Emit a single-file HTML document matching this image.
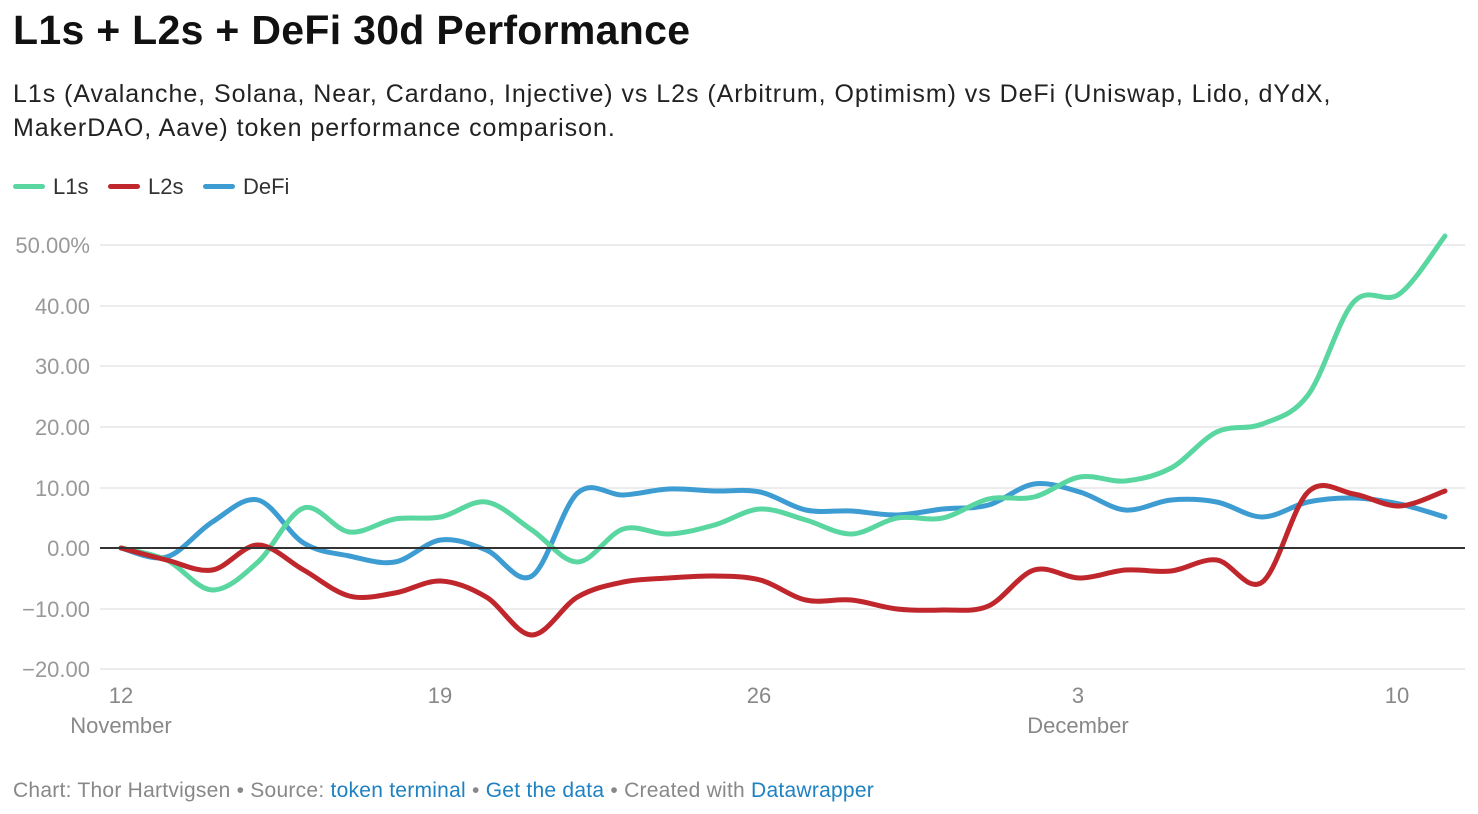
<!DOCTYPE html>
<html><head><meta charset="utf-8"><style>
body{margin:0;background:#fff;width:1478px;height:814px;overflow:hidden;font-family:"Liberation Sans",Arial,sans-serif;}
.t{position:absolute;left:13px;top:7px;font-size:41px;font-weight:bold;color:#111;letter-spacing:0.3px}
.s{position:absolute;left:13px;top:77px;font-size:25px;line-height:34px;color:#222;width:1345px;letter-spacing:0.95px}
.lg{position:absolute;top:174px;font-size:22px;color:#333}
.lg span{display:inline-block;width:32px;height:5px;border-radius:3px;vertical-align:middle;margin-right:8px;position:relative;top:-2px}
.f{position:absolute;left:13px;top:779px;font-size:21px;color:#888;letter-spacing:0.25px}
.f b{font-weight:normal;color:#1d81c2}
</style></head><body>
<div class="t">L1s + L2s + DeFi 30d Performance</div>
<div class="s">L1s (Avalanche, Solana, Near, Cardano, Injective) vs L2s (Arbitrum, Optimism) vs DeFi (Uniswap, Lido, dYdX, MakerDAO, Aave) token performance comparison.</div>
<div class="lg" style="left:13px"><span style="background:#5ad6a0"></span>L1s</div>
<div class="lg" style="left:108px"><span style="background:#c0272d"></span>L2s</div>
<div class="lg" style="left:203px"><span style="background:#3d9cd1"></span>DeFi</div>
<svg width="1478" height="814" style="position:absolute;left:0;top:0" font-family="Liberation Sans,Arial,sans-serif">
<g stroke="#e6e6e6" stroke-width="1.5">
<line x1="100" x2="1465" y1="245" y2="245"/><line x1="100" x2="1465" y1="306" y2="306"/>
<line x1="100" x2="1465" y1="366" y2="366"/><line x1="100" x2="1465" y1="427" y2="427"/>
<line x1="100" x2="1465" y1="488" y2="488"/><line x1="100" x2="1465" y1="609" y2="609"/>
<line x1="100" x2="1465" y1="669" y2="669"/></g>
<g fill="#999" font-size="22" text-anchor="end">
<text x="90" y="253">50.00%</text><text x="90" y="314">40.00</text><text x="90" y="374">30.00</text>
<text x="90" y="435">20.00</text><text x="90" y="496">10.00</text><text x="90" y="556">0.00</text>
<text x="90" y="617">−10.00</text><text x="90" y="677">−20.00</text></g>
<g fill="#888" font-size="22" text-anchor="middle">
<text x="121" y="703">12</text><text x="121" y="733">November</text>
<text x="440" y="703">19</text><text x="759" y="703">26</text>
<text x="1078" y="703">3</text><text x="1078" y="733">December</text>
<text x="1397" y="703">10</text></g>
<g id="lines" fill="none" stroke-width="5" stroke-linecap="round" stroke-linejoin="round"></g>
<line x1="100" x2="1465" y1="548" y2="548" stroke="#333" stroke-width="2"/>
</svg>
<div class="f">Chart: Thor Hartvigsen • Source: <b>token terminal</b> • <b>Get the data</b> • Created with <b>Datawrapper</b></div>
<script>
var G=[548,560,590,562,508,532,519,517,502,530,562,529,534,525,509,520,534,518,518,499,497,477,481,468,432,424,395,302,294,236];
var R=[548,560,570,545,570,596,593,581,597,635,597,582,578,576,580,600,600,609,610,606,570,578,570,571,560,582,492,494,506,491];
var B=[548,557,522,500,543,556,562,540,550,576,493,495,489,491,492,510,511,515,509,505,484,492,510,500,502,517,502,498,504,517];
function path(Y){var p=Y.map(function(y,i){return [121+i*(1324/29),y]});var d="M"+p[0][0]+","+p[0][1];
for(var i=0;i<p.length-1;i++){var a=p[i-1]||p[i],b=p[i],c=p[i+1],e=p[i+2]||c;
d+=" C"+(b[0]+(c[0]-a[0])/6)+","+(b[1]+(c[1]-a[1])/6)+" "+(c[0]-(e[0]-b[0])/6)+","+(c[1]-(e[1]-b[1])/6)+" "+c[0]+","+c[1];}return d;}
var g=document.getElementById("lines");
[[B,"#3d9cd1"],[G,"#5ad6a0"],[R,"#c0272d"]].forEach(function(s){var e=document.createElementNS("http://www.w3.org/2000/svg","path");e.setAttribute("d",path(s[0]));e.setAttribute("stroke",s[1]);g.appendChild(e);});
</script>
</body></html>
